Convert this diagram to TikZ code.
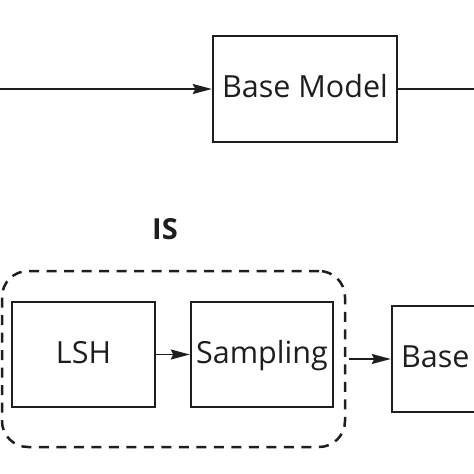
\documentclass[tikz,border=0pt]{standalone}
\usepackage{fontspec}
\setmainfont{Open Sans}
\usepackage{tikz}
\usetikzlibrary{arrows.meta}

\definecolor{ink}{RGB}{30,30,30}

\tikzset{
  block/.style={draw=ink,line width=2.4pt,text=ink,minimum width=184pt,minimum height=106pt,
    inner sep=0pt,font=\fontsize{30.5}{36}\selectfont,text height=21.5pt,text depth=4.5pt},
  group/.style={draw=ink,line width=2.5pt,dash pattern=on 10pt off 7.5pt,rounded corners=26pt,
    minimum width=343pt,minimum height=176pt,inner sep=0pt}
}

\begin{document}
\begin{tikzpicture}[x=1pt,y=1pt,>={Stealth[length=19pt,width=10pt,inset=2.5pt]}]
      \useasboundingbox (0,0) rectangle (474,-474);
      \clip (0,0) rectangle (474,-474);

      \coordinate (l) at (0,-89);
      \coordinate (r) at (474,-89);
      \node[block] (0) at (305,-89) {Base Model};

      \node[block,minimum width=143pt,minimum height=105pt] (1) at (83.5,-354.5) {LSH};
      \node[block,minimum width=142pt,minimum height=105pt] (2) [right of=1,xshift=150pt] {Sampling};
      \node[group] (3) at (173.5,-359) {};
      \node[text=ink,font=\fontsize{29}{34}\selectfont\bfseries] (4) [above of=3,xshift=-8.5pt,yshift=101pt] {IS};
      \node[block] (5) [right of=3,xshift=282pt] {Base Model};

      \draw[ink,line width=1.5pt,->] (l) -- (0);
      \draw[ink,line width=1.5pt] (0) -- (r);

      \draw[ink,line width=1.5pt,->] (1) -- (2);
      \draw[ink,line width=1.5pt,shorten <=3pt,->] (3) -- (5);

    \end{tikzpicture}
\end{document}
